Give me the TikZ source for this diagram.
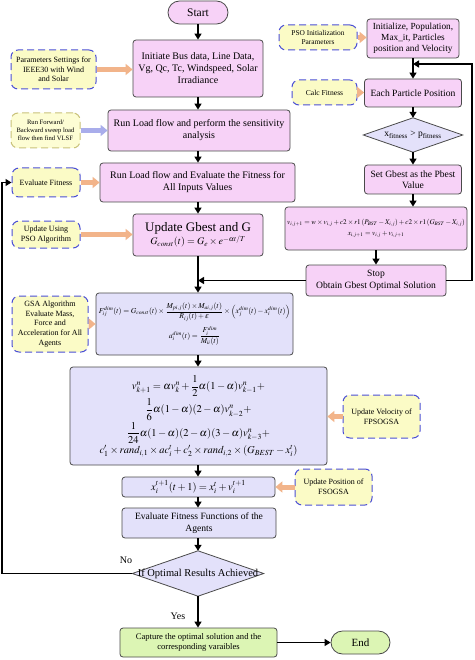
\documentclass[tikz,border=0pt]{standalone}
\usepackage{amsmath}
\usepackage{mathptmx}
\usepackage[no-math]{fontspec}
\setmainfont{Liberation Serif}
\usetikzlibrary{arrows.meta,backgrounds}
\definecolor{pinkf}{HTML}{F7D2F7}
\definecolor{lavf}{HTML}{E3E1FA}
\definecolor{yelf}{HTML}{FBFBC6}
\definecolor{yelf2}{HTML}{FDFDD4}
\definecolor{dashb}{HTML}{4B4FD6}
\definecolor{dashy}{HTML}{C9C27A}
\definecolor{orgf}{HTML}{F2B48A}
\definecolor{bluf}{HTML}{A9ADEB}
\definecolor{grnf}{HTML}{DCF5B4}
\definecolor{bord}{HTML}{4A4A4A}
\tikzset{
  box/.style={draw=bord, rounded corners=3pt, align=center, inner sep=1pt, line width=0.8pt, font=\fontsize{10}{12}\selectfont},
  pinkbox/.style={box, fill=pinkf},
  lavbox/.style={box, fill=lavf},
  grnbox/.style={box, fill=grnf},
  note/.style={draw=dashb, dash pattern=on 7pt off 4pt, line width=1pt, fill=yelf, rounded corners=7pt, align=center, inner sep=1pt, font=\fontsize{8}{9.6}\selectfont},
  flow/.style={-{Triangle[length=6pt,width=7pt]}, line width=1.4pt, draw=black},
  fat/.style={line width=5pt, draw=orgf, -{Triangle[length=7pt,width=11pt]}},
  fatb/.style={line width=5pt, draw=bluf, -{Triangle[length=7pt,width=11pt]}},
  lbl/.style={font=\fontsize{10}{12}\selectfont, inner sep=0pt}
}
\begin{document}
\begin{tikzpicture}[x=1pt,y=-1pt]
\useasboundingbox (0,0) rectangle (474,660);
% ---------- main column ----------
\node[pinkbox, rounded corners=11.5pt, minimum width=60, minimum height=23, font=\fontsize{11.5}{13}\selectfont] (start) at (198,12.5) {Start};
\node[pinkbox, minimum width=130, minimum height=57] (init) at (198,68.5) {Initiate Bus data, Line Data,\\ Vg, Qc, Tc, Windspeed, Solar\\ Irradiance};
\node[note, minimum width=85, minimum height=39] (param) at (53.5,69.5) {Parameters Settings for\\ IEEE30 with Wind\\ and Solar};
\node[pinkbox, minimum width=182, minimum height=41] (sens) at (199,130.5) {Run Load flow and perform the sensitivity\\ analysis};
\node[note, draw=dashy, fill=yelf2, minimum width=69, minimum height=35, font=\fontsize{6.6}{8.2}\selectfont] (fwd) at (45.5,130.5) {Run Forward/\\ Backward sweep load\\ flow then find VLSF};
\node[pinkbox, minimum width=195, minimum height=39] (evalall) at (197.5,182.5) {Run Load flow and Evaluate the Fitness for\\ All Inputs Values};
\node[note, minimum width=68, minimum height=29] (evalfit) at (46,182.5) {Evaluate Fitness};
\node[pinkbox, minimum width=130, minimum height=42] (upd) at (198,235) {{\fontsize{13}{15}\selectfont Update Gbest and G}\\[1pt] $G_{const}(t)=G_e\times e^{-\alpha t/T}$};
\node[note, minimum width=68, minimum height=27] (pso) at (46,234.5) {Update Using\\ PSO Algorithm};
\node[lavbox, minimum width=197, minimum height=62, font=\fontsize{7.6}{9}\selectfont] (fbox) at (194.5,324) {$F_{ij}^{dim}(t)=G_{const}(t)\times\dfrac{M_{pi,j}(t)\times M_{ai,j}(t)}{R_{ij}(t)+\epsilon}\times\left(x_j^{dim}(t)-x_i^{dim}(t)\right)$\\[4pt] $a_i^{dim}(t)=\dfrac{F_i^{dim}}{M_{ii}(t)}$};
\node[note, minimum width=76, minimum height=56] (gsa) at (50,324) {GSA Algorithm\\ Evaluate Mass,\\ Force and\\ Acceleration for All\\ Agents};
\node[lavbox, minimum width=257, minimum height=98, font=\fontsize{10.5}{12}\selectfont] (vel) at (198.5,416) {$v_{k+1}^{n}=\alpha v_k^n+\dfrac{1}{2}\alpha(1-\alpha)v_{k-1}^n+$\\[1pt] $\dfrac{1}{6}\alpha(1-\alpha)(2-\alpha)v_{k-2}^n+$\\[1pt] $\dfrac{1}{24}\alpha(1-\alpha)(2-\alpha)(3-\alpha)v_{k-3}^n+$\\[1pt] $c_1'\times rand_{i,1}\times ac_i^t+c_2'\times rand_{i,2}\times(G_{BEST}-x_i^t)$};
\node[note, minimum width=77, minimum height=43] (updv) at (381.5,416.5) {Update Velocity of\\ FPSOGSA};
\node[lavbox, minimum width=153, minimum height=20, font=\fontsize{10.5}{12}\selectfont] (xbox) at (198.5,487) {$x_i^{t+1}(t+1)=x_i^t+v_i^{t+1}$};
\node[note, minimum width=77, minimum height=36] (updp) at (333.5,487) {Update Position of\\ FSOGSA};
\node[lavbox, minimum width=154, minimum height=30, font=\fontsize{9.6}{11.5}\selectfont] (evalag) at (199,523) {Evaluate Fitness Functions of the\\ Agents};
\node[minimum width=131, minimum height=45, inner sep=0pt, font=\fontsize{10.5}{12}\selectfont] (dia) at (198,573.5) {If Optimal Results Achieved};
\node[grnbox, minimum width=157, minimum height=29, font=\fontsize{8.6}{10.3}\selectfont] (capture) at (198.5,642.5) {Capture the optimal solution and the\\ corresponding varaibles};
\node[grnbox, rounded corners=11.5pt, minimum width=59, minimum height=23, font=\fontsize{11}{13}\selectfont] (endn) at (360.5,642.5) {End};
\node[lbl] (no) at (126,560) {No};
\node[lbl] (yes) at (178,616) {Yes};
% ---------- right column ----------
\node[pinkbox, minimum width=92, minimum height=39, font=\fontsize{9.3}{11.2}\selectfont] (initpso) at (413,38.5) {Initialize, Population,\\ Max\_it, Particles\\ position and Velocity};
\node[note, minimum width=78, minimum height=25, font=\fontsize{7.4}{9}\selectfont] (psoinit) at (318,37.5) {PSO Initialization\\ Parameters};
\node[pinkbox, minimum width=97, minimum height=28, font=\fontsize{9.6}{11.5}\selectfont] (each) at (413,93) {Each Particle Position};
\node[note, minimum width=65, minimum height=25, font=\fontsize{7.6}{9}\selectfont] (calc) at (324.5,92.5) {Calc Fitness};
\node[minimum width=99, minimum height=34, inner sep=0pt, font=\fontsize{9.5}{11}\selectfont] (pdia) at (413,135) {x\textsubscript{fitness} > p\textsubscript{fitness}};
\node[pinkbox, minimum width=97, minimum height=29, font=\fontsize{9.6}{11.5}\selectfont] (setg) at (413,179.5) {Set Gbest as the Pbest\\ Value};
\node[pinkbox, minimum width=182, minimum height=43, font=\fontsize{7.1}{10.5}\selectfont] (veq) at (376,228.5) {$v_{i,j+1}=w\times v_{i,j}+c2\times r1\left(P_{BST}-X_{i,j}\right)+c2\times r1\left(G_{BST}-X_{i,j}\right)$\\[1pt] $x_{i,j+1}=v_{i,j}+v_{i,j+1}$};
\node[pinkbox, minimum width=140, minimum height=31, font=\fontsize{9.6}{11.5}\selectfont] (stop) at (376,280.5) {Stop\\ Obtain Gbest Optimal Solution};
\begin{pgfonlayer}{background}
\fill[white] (0,0) rectangle (474,660);
\draw[fill=lavf, draw=bord, line width=0.8pt] (dia.north) -- (dia.east) -- (dia.south) -- (dia.west) -- cycle;
\draw[fill=lavf, draw=bord, line width=0.8pt] (pdia.north) -- (pdia.east) -- (pdia.south) -- (pdia.west) -- cycle;
\end{pgfonlayer}
\coordinate (rjoin) at (413,64);
\coordinate (rtop) at (472,64);
\coordinate (ljoin) at (198,280.5);
\coordinate (lbot) at (2,573.5);
% ---------- main flow ----------
\draw[flow] (start.south) -- (start.south |- init.north);
\draw[flow] (init.south) -- (init.south |- sens.north);
\draw[flow] (sens.south -| init.south) -- (init.south |- evalall.north);
\draw[flow] (evalall.south -| init.south) -- (init.south |- upd.north);
\draw[flow] (upd.south) -- (upd.south |- fbox.north);
\draw[flow] (stop.west) -- (ljoin);
\draw[flow] (fbox.south -| upd.south) -- (upd.south |- vel.north);
\draw[flow] (vel.south -| upd.south) -- (upd.south |- xbox.north);
\draw[flow] (xbox.south -| upd.south) -- (upd.south |- evalag.north);
\draw[flow] (evalag.south -| upd.south) -- (dia.north);
\draw[flow] (dia.south) -- (dia.south |- capture.north);
\draw[flow] (capture.east) -- (endn.west);
\draw[flow] (dia.west) -- (lbot) -- (lbot |- evalfit.west) -- (evalfit.west);
% ---------- right flow ----------
\draw[flow] (initpso.south) -- (initpso.south |- each.north);
\draw[flow] (stop.east) -- (stop.east -| rtop) -- (rtop) -- (rjoin);
\draw[flow] (each.south) -- (pdia.north);
\draw[flow] (pdia.south) -- (setg.north);
\draw[flow] (setg.south) -- (setg.south |- veq.north);
\draw[flow] (veq.south) -- (stop.north);
% ---------- side arrows ----------
\draw[fat] (param.east) -- (param.east -| init.west);
\draw[fatb] (fwd.east) -- (fwd.east -| sens.west);
\draw[fat] (evalfit.east) -- (evalfit.east -| evalall.west);
\draw[fat] (pso.east) -- (pso.east -| upd.west);
\draw[fat] (gsa.east) -- (gsa.east -| fbox.west);
\draw[fat] (updv.west) -- (updv.west -| vel.east);
\draw[fat] (updp.west) -- (updp.west -| xbox.east);
\draw[fat] (psoinit.east) -- (psoinit.east -| initpso.west);
\draw[fat] (calc.east) -- (calc.east -| each.west);
\end{tikzpicture}
\end{document}
